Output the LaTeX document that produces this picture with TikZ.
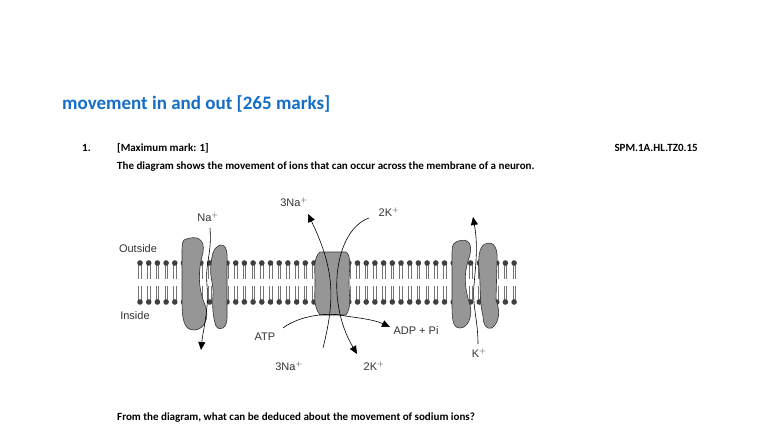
\documentclass[tikz,border=0pt]{standalone}
\usepackage{fontspec}
\setmainfont{Carlito}
\newfontfamily\arialf{Liberation Sans}
\usetikzlibrary{arrows.meta}
\definecolor{ttl}{RGB}{20,110,200}
\definecolor{prot}{RGB}{150,150,150}
\tikzset{
  lbl/.style={font=\arialf\fontsize{11}{12}\selectfont, text=black!80, inner sep=0pt},
  txt/.style={font=\fontsize{11}{12}\selectfont\bfseries, anchor=west, inner sep=0pt},
  prt/.style={fill=prot, draw=black!80, line width=0.6pt},
  ion/.style={-{Triangle[length=8pt,width=7pt]}, line width=0.6pt},
}
\begin{document}
\begin{tikzpicture}[x=1pt,y=-1pt]
\useasboundingbox (0,0) rectangle (784,441);
\fill[white] (0,0) rectangle (784,441);
\node[anchor=west, inner sep=0pt, text=ttl, font=\fontsize{19}{20}\selectfont\bfseries] (title) at (62,104) {movement in and out [265 marks]};
\node[txt] (num) at (82,148) {1.};
\node[txt] (mm) at (117,148) {[Maximum mark: 1]};
\node[txt, anchor=east] (code) at (698,148) {SPM.1A.HL.TZ0.15};
\node[txt] (stem) at (117,167) {The diagram shows the movement of ions that can occur across the membrane of a neuron.};
\node[txt] (q) at (117,418) {From the diagram, what can be deduced about the movement of sodium ions?};
% membrane
\foreach \x in {140,148.7,...,517}{
  \draw[black!55, line width=0.6pt] (\x-1.3,263) -- (\x-1.3,279) (\x+1.3,263) -- (\x+1.3,279);
  \draw[black!55, line width=0.6pt] (\x-1.3,286) -- (\x-1.3,302) (\x+1.3,286) -- (\x+1.3,302);
  \fill[black!75] (\x,263) circle (2.8);
  \fill[black!75] (\x,302) circle (2.8);
}
% left channel
\draw[prt] (184,240) .. controls (198,234) and (205,240) .. (203,252) .. controls (197,275) and (199,290) .. (205,305) .. controls (210,318) and (204,330) .. (194,330) .. controls (184,330) and (182,320) .. (182,300) -- (182,255) .. controls (182,247) and (182,242) .. (184,240) -- cycle;
\draw[prt] (218,246) .. controls (225,242) and (228,250) .. (227,262) -- (227,318) .. controls (227,328) and (220,332) .. (216,326) .. controls (213,318) and (212,305) .. (213,295) .. controls (214,285) and (209,275) .. (211,265) .. controls (212,255) and (213,249) .. (218,246) -- cycle;
% right channel
\draw[prt] (456,242) .. controls (470,236) and (473,246) .. (469,258) .. controls (463,275) and (465,290) .. (470,305) .. controls (473,318) and (467,328) .. (460,328) .. controls (452,328) and (452,318) .. (452,300) -- (452,256) .. controls (452,248) and (452,244) .. (456,242) -- cycle;
\draw[prt] (485,244) .. controls (495,240) and (498,250) .. (497,262) -- (496,300) .. controls (500,310) and (500,322) .. (492,328) .. controls (486,330) and (483,324) .. (483,316) .. controls (479,300) and (481,285) .. (479,270) .. controls (478,258) and (479,247) .. (485,244) -- cycle;
% pump
\draw[prt] (320,252) -- (346,252) .. controls (352,256) and (349,270) .. (349,283) .. controls (349,298) and (352,306) .. (346,315) -- (320,315) .. controls (313,306) and (315,296) .. (315,283) .. controls (315,270) and (313,258) .. (320,252) -- cycle;
% labels
\node[lbl] (na1) at (208,217) {Na$^{+}$};
\node[lbl] (out) at (138,249) {Outside};
\node[lbl] (in) at (135,316) {Inside};
\node[lbl] (na3t) at (294,202) {3Na$^{+}$};
\node[lbl] (k2t) at (389,212) {2K$^{+}$};
\node[lbl] (atp) at (265,337) {ATP};
\node[lbl] (adp) at (416,331) {ADP + Pi};
\node[lbl] (na3b) at (289,366) {3Na$^{+}$};
\node[lbl] (k2b) at (374,366) {2K$^{+}$};
\node[lbl] (k1) at (479,353) {K$^{+}$};
\coordinate (natop) at (210,228);
\coordinate (nabot) at (201,350);
\coordinate (ktop) at (473,217);
\coordinate (kbot) at (478,344);
\coordinate (na3s) at (323,348);
\coordinate (na3e) at (308,214);
\coordinate (k2s) at (369,218);
\coordinate (k2e) at (357,354);
\coordinate (atps) at (283,328);
\coordinate (adpe) at (390,327);
% arrows
\draw[ion] (natop) .. controls (212,255) and (205,262) .. (207,285) .. controls (209,310) and (203,330) .. (nabot);
\draw[ion] (kbot) .. controls (478,320) and (472,305) .. (474,285) .. controls (476,262) and (478,245) .. (ktop);
\draw[ion] (na3s) .. controls (335,300) and (335,270) .. (na3e);
\draw[ion] (k2s) .. controls (335,230) and (325,300) .. (k2e);
\draw[ion] (atps) .. controls (300,315) and (330,312) .. (345,316) .. controls (360,318) and (375,320) .. (adpe);
\end{tikzpicture}
\end{document}
